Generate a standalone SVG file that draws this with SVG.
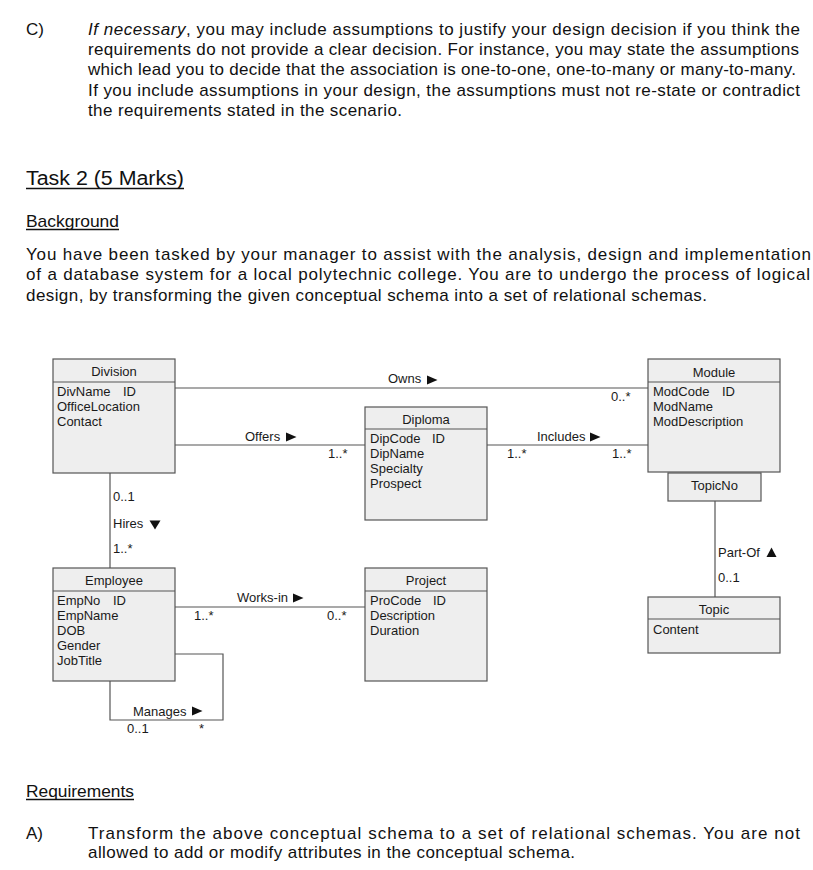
<svg xmlns="http://www.w3.org/2000/svg" width="813" height="870" viewBox="0 0 813 870">
<style>
.body{font-family:"Liberation Sans",Arial,sans-serif;font-size:17px;fill:#111}
.head{font-family:"Liberation Sans",Arial,sans-serif;font-size:17px;fill:#111}
.title{font-family:"Liberation Sans",Arial,sans-serif;font-size:20px;fill:#111}
.ul{stroke:#111;stroke-width:1.5}
.box{fill:#eeeeee;stroke:#555;stroke-width:1.2}
.div{stroke:#555;stroke-width:1.2}
.t{font-family:"Liberation Sans",Arial,sans-serif;font-size:13px;fill:#1a1a1a}
.c{text-anchor:middle}
.conn line,.conn polyline{stroke:#555;stroke-width:1.2;fill:none}
.tri{fill:#111}
</style>
<rect width="813" height="870" fill="#fff"/>

<g id="text-c">
<text class="body" x="26" y="35">C)</text>
<text class="body" x="88" y="35" textLength="712" lengthAdjust="spacing"><tspan font-style="italic">If necessary</tspan>, you may include assumptions to justify your design decision if you think the</text>
<text class="body" x="88" y="55" textLength="711" lengthAdjust="spacing">requirements do not provide a clear decision.  For instance, you may state the assumptions</text>
<text class="body" x="88" y="75" textLength="708" lengthAdjust="spacing">which lead you to decide that the association is one-to-one, one-to-many or many-to-many.</text>
<text class="body" x="88" y="96" textLength="712" lengthAdjust="spacing">If you include assumptions in your design, the assumptions must not re-state or contradict</text>
<text class="body" x="88" y="116" textLength="314" lengthAdjust="spacing">the requirements stated in the scenario.</text>
</g>

<g id="text-task">
<text class="title" x="26" y="185" textLength="158" lengthAdjust="spacingAndGlyphs">Task 2 (5 Marks)</text>
<line class="ul" x1="26" y1="188.5" x2="184" y2="188.5"/>
<text class="head" x="26" y="227" textLength="93" lengthAdjust="spacingAndGlyphs">Background</text>
<line class="ul" x1="26" y1="229.5" x2="119" y2="229.5"/>
<text class="body" x="26" y="260" textLength="785" lengthAdjust="spacing">You have been tasked by your manager to assist with the analysis, design and implementation</text>
<text class="body" x="26" y="280" textLength="784" lengthAdjust="spacing">of a database system for a local polytechnic college.  You are to undergo the process of logical</text>
<text class="body" x="26" y="301" textLength="681" lengthAdjust="spacing">design, by transforming the given conceptual schema into a set of relational schemas.</text>
</g>

<g class="conn" id="connectors">
<line x1="175" y1="388" x2="648" y2="388"/>
<line x1="175" y1="445" x2="365" y2="445"/>
<line x1="487" y1="445" x2="648" y2="445"/>
<line x1="110" y1="473" x2="110" y2="568"/>
<line x1="715" y1="501" x2="715" y2="597"/>
<line x1="175" y1="607" x2="365" y2="607"/>
<polyline points="110,681 110,720 223,720 223,654 175,654"/>
<text class="t" x="388" y="383">Owns</text>
<polygon class="tri" points="427,375.5 437.5,380 427,384.5"/>
<text class="t" x="611" y="401">0..*</text>
<text class="t" x="245" y="441">Offers</text>
<polygon class="tri" points="286,432.5 296.5,437 286,441.5"/>
<text class="t" x="328" y="458">1..*</text>
<text class="t" x="537" y="441">Includes</text>
<polygon class="tri" points="590,432.5 600.5,437 590,441.5"/>
<text class="t" x="507" y="458">1..*</text>
<text class="t" x="612" y="458">1..*</text>
<text class="t" x="113" y="501">0..1</text>
<text class="t" x="113" y="528">Hires</text>
<polygon class="tri" points="149.5,520.5 160.5,520.5 155,529.5"/>
<text class="t" x="113" y="553">1..*</text>
<text class="t" x="718" y="557">Part-Of</text>
<polygon class="tri" points="766.5,557 776.5,557 771.5,547.5"/>
<text class="t" x="718" y="582">0..1</text>
<text class="t" x="237" y="602">Works-in</text>
<polygon class="tri" points="293,593.5 303.5,598 293,602.5"/>
<text class="t" x="194" y="620">1..*</text>
<text class="t" x="327" y="620">0..*</text>
<text class="t" x="133" y="716">Manages</text>
<polygon class="tri" points="192,706.5 202.5,711 192,715.5"/>
<text class="t" x="127" y="733">0..1</text>
<text class="t" x="199" y="733">*</text>
</g>

<g id="division">
<rect class="box" x="53" y="359" width="122" height="114"/>
<line class="div" x1="53" y1="382" x2="175" y2="382"/>
<text class="t c" x="114" y="376">Division</text>
<text class="t" x="57" y="396">DivName<tspan x="123">ID</tspan></text>
<text class="t" x="57" y="411">OfficeLocation</text>
<text class="t" x="57" y="426">Contact</text>
</g>

<g id="diploma">
<rect class="box" x="365" y="407" width="122" height="113"/>
<line class="div" x1="365" y1="429" x2="487" y2="429"/>
<text class="t c" x="426" y="424">Diploma</text>
<text class="t" x="370" y="443">DipCode<tspan x="432">ID</tspan></text>
<text class="t" x="370" y="458">DipName</text>
<text class="t" x="370" y="473">Specialty</text>
<text class="t" x="370" y="488">Prospect</text>
</g>

<g id="module">
<rect class="box" x="648" y="359" width="132" height="113"/>
<line class="div" x1="648" y1="382" x2="780" y2="382"/>
<text class="t c" x="714" y="377">Module</text>
<text class="t" x="653" y="396">ModCode<tspan x="722">ID</tspan></text>
<text class="t" x="653" y="411">ModName</text>
<text class="t" x="653" y="426">ModDescription</text>
</g>

<g id="topicno">
<rect class="box" x="668" y="473" width="93" height="28"/>
<text class="t c" x="714.5" y="490">TopicNo</text>
</g>

<g id="topic">
<rect class="box" x="648" y="597" width="132" height="56"/>
<line class="div" x1="648" y1="619" x2="780" y2="619"/>
<text class="t c" x="714" y="614">Topic</text>
<text class="t" x="653" y="634">Content</text>
</g>

<g id="employee">
<rect class="box" x="53" y="568" width="122" height="113"/>
<line class="div" x1="53" y1="591" x2="175" y2="591"/>
<text class="t c" x="114" y="585">Employee</text>
<text class="t" x="57" y="605">EmpNo<tspan x="113">ID</tspan></text>
<text class="t" x="57" y="620">EmpName</text>
<text class="t" x="57" y="635">DOB</text>
<text class="t" x="57" y="650">Gender</text>
<text class="t" x="57" y="665">JobTitle</text>
</g>

<g id="project">
<rect class="box" x="365" y="568" width="122" height="113"/>
<line class="div" x1="365" y1="591" x2="487" y2="591"/>
<text class="t c" x="426" y="585">Project</text>
<text class="t" x="370" y="605">ProCode<tspan x="433">ID</tspan></text>
<text class="t" x="370" y="620">Description</text>
<text class="t" x="370" y="635">Duration</text>
</g>

<g id="text-req">
<text class="head" x="26" y="797" textLength="108" lengthAdjust="spacingAndGlyphs">Requirements</text>
<line class="ul" x1="26" y1="799.5" x2="134" y2="799.5"/>
<text class="body" x="26" y="839">A)</text>
<text class="body" x="88" y="839" textLength="712" lengthAdjust="spacing">Transform the above conceptual schema to a set of relational schemas. You are not</text>
<text class="body" x="88" y="858" textLength="487" lengthAdjust="spacing">allowed to add or modify attributes in the conceptual schema.</text>
</g>
</svg>
